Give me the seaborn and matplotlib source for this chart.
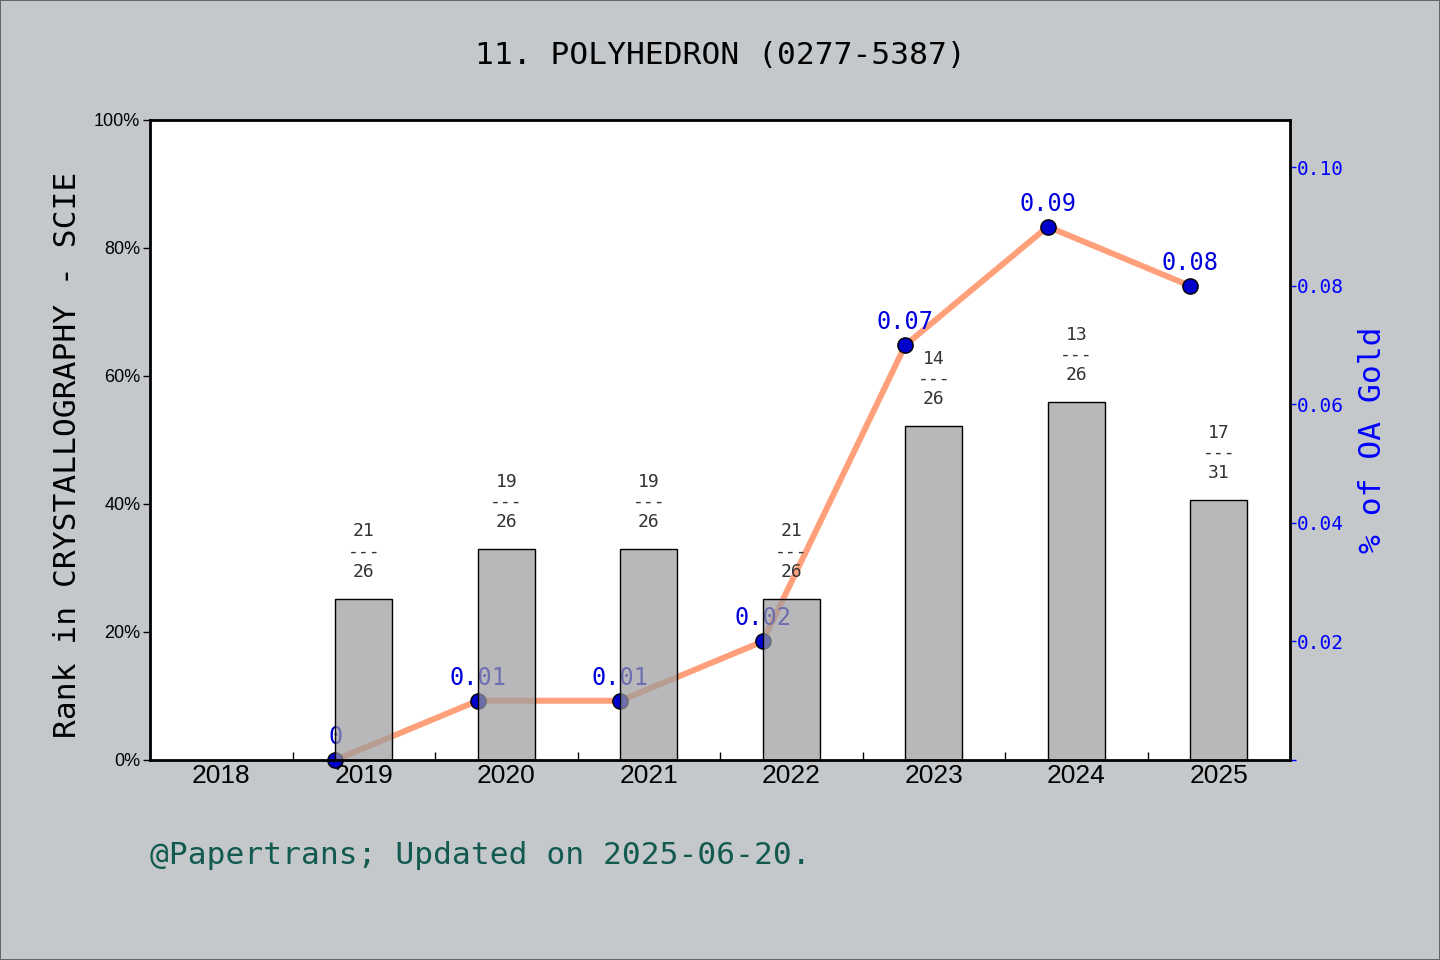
import numpy as np
import pandas as pd
import matplotlib
matplotlib.use("Agg")
import matplotlib.pyplot as plt
from matplotlib.ticker import PercentFormatter, FixedLocator
import seaborn as sns

# data
years = ["2018", "2019", "2020", "2021", "2022", "2023", "2024", "2025"]
rank_pct = [np.nan, 0.252, 0.330, 0.330, 0.252, 0.522, 0.559, 0.406]
ranks = [None, 21, 19, 19, 21, 14, 13, 17]
totals = [None, 26, 26, 26, 26, 26, 26, 31]
oa_gold = [np.nan, 0.0, 0.01, 0.01, 0.02, 0.07, 0.09, 0.08]

TITLE = "11. POLYHEDRON (0277-5387)"
FOOTER = "@Papertrans; Updated on 2025-06-20."
BG = "#c5c8cb"
MONO = "DejaVu Sans Mono"

sns.set_style("ticks")
plt.rcParams["font.family"] = ["Liberation Sans", "DejaVu Sans"]

df = pd.DataFrame({"year": years, "rank_pct": rank_pct})

fig = plt.figure(figsize=(14.4, 9.6), dpi=100, facecolor=BG)
fig.patch.set_edgecolor("#666666")
fig.patch.set_linewidth(1.2)
ax = fig.add_axes([150 / 1440, 1 - 760 / 960, 1140 / 1440, 640 / 960])
ax2 = ax.twinx()

# line on the twin axis, drawn beneath the semi-transparent bars
xpos = np.arange(len(years)) - 0.2
ax2.plot(xpos, oa_gold, color="#ffa07a", lw=4.3, zorder=2, clip_on=False)
ax2.plot(xpos, oa_gold, ls="none", marker="o", ms=11, mfc="#0000cc",
         mec="black", mew=1, zorder=3, clip_on=False)
for x, v in zip(xpos, oa_gold):
    if np.isnan(v):
        continue
    ax2.annotate(f"{v:g}", (x, v), xytext=(0, 8), textcoords="offset points",
                 ha="center", va="bottom", color="#0000dd", fontsize=17,
                 family=MONO)
ax2.set_ylim(0, 0.108)
ax2.set_xlim(-0.5, len(years) - 0.5)
ax2.yaxis.set_major_locator(FixedLocator([0, 0.02, 0.04, 0.06, 0.08, 0.10]))
ax2.set_yticklabels(["", "0.02", "0.04", "0.06", "0.08", "0.10"],
                    family=MONO, fontsize=14)
ax2.tick_params(axis="y", colors="blue", direction="out", length=4, width=1, pad=1)
ax2.set_ylabel("% of OA Gold", color="blue", fontsize=22.5, family=MONO,
               labelpad=10)
ax2.patch.set_visible(True)
ax2.set_facecolor("white")
for s in ax2.spines.values():
    s.set_visible(False)

ax.set_zorder(ax2.get_zorder() + 1)
ax.patch.set_visible(False)

sns.barplot(data=df, x="year", y="rank_pct", order=years, ax=ax,
            color="#9b9c9e", saturation=1, width=0.4,
            edgecolor="black", linewidth=1)
# translucent fill, solid black edge
for p in ax.patches:
    p.set_alpha(None)
    p.set_facecolor((0.608, 0.612, 0.620, 0.71))
    p.set_edgecolor("black")
for i, (r, t, h) in enumerate(zip(ranks, totals, rank_pct)):
    if r is None:
        continue
    ax.annotate(f"{r}\n---\n{t}", (i, h), xytext=(0, 13), textcoords="offset points",
                ha="center", va="bottom", fontsize=13, color="#333333",
                family=MONO, linespacing=1.15)

ax.set_xlim(-0.5, len(years) - 0.5)
ax.set_ylim(0, 1)
ax.yaxis.set_major_formatter(PercentFormatter(1.0, decimals=0))
ax.set_yticks([0, 0.2, 0.4, 0.6, 0.8, 1.0])
ax.tick_params(axis="y", labelsize=13, direction="out", length=5, width=1, pad=2,
               colors="black")
ax.tick_params(axis="x", which="major", labelsize=19, length=0, pad=3,
               labelcolor="black")
ax.set_xticks(np.arange(0.5, len(years) - 1, 1.0), minor=True)
ax.tick_params(axis="x", which="minor", direction="in", length=6, width=1,
               color="black")
ax.set_xlabel("")
ax.set_ylabel("Rank in CRYSTALLOGRAPHY - SCIE", fontsize=22.5, family=MONO,
              color="black")
ax.yaxis.set_label_coords(-0.060, 0.477)
for s in ax.spines.values():
    s.set_visible(True)
    s.set_linewidth(2)
    s.set_color("black")

fig.text(0.5, 1 - 56 / 960, TITLE, ha="center", va="center", fontsize=22.5,
         family=MONO, color="black")
fig.text(150 / 1440, 1 - 855 / 960, FOOTER, ha="left", va="center",
         fontsize=22.5, family=MONO, color="#125a50")

fig.savefig("out.png", dpi=100, facecolor=fig.get_facecolor(),
            edgecolor=fig.get_edgecolor())
